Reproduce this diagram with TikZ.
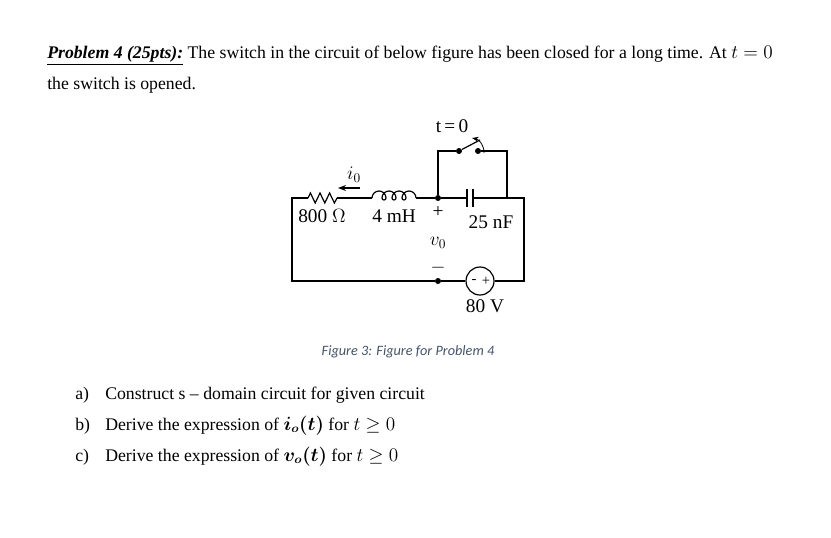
\documentclass[tikz,border=0pt]{standalone}
\usepackage{amsmath,amssymb,bm}
\usepackage{fontspec}
\setmainfont{Liberation Serif}
\newfontfamily\capfont{Carlito}
\usetikzlibrary{arrows.meta}
\definecolor{capc}{RGB}{68,84,106}
\begin{document}
\begin{tikzpicture}[x=0.75pt,y=-0.75pt,
  wire/.style={line width=0.9pt},
  dotc/.style={circle,fill=black,inner sep=0pt,minimum size=4.5pt},
  txt/.style={font=\fontsize{13.3pt}{15pt}\selectfont,anchor=base west,inner sep=0pt},
  clab/.style={font=\fontsize{14.5pt}{16pt}\selectfont,inner sep=0pt}]
\useasboundingbox (0,0) rectangle (831,537);
\fill[white] (0,0) rectangle (831,537);
\node[txt] (l1) at (47,58) {\textbf{\textit{\underline{Problem 4 (25pts):}}} The switch in the circuit of below figure has been closed for a long time. At $t=0$};
\node[txt] (l2) at (47,89) {the switch is opened.};
% circuit coordinates
\coordinate (TL) at (292,198); \coordinate (BL) at (292,281);
\coordinate (TR) at (524,198); \coordinate (BR) at (524,281);
\coordinate (R1) at (308,198); \coordinate (R2) at (337,198);
\coordinate (L1) at (372,198); \coordinate (L2) at (416,198);
\coordinate (N) at (438,198); \coordinate (NB) at (438,281);
\coordinate (C1) at (467,198); \coordinate (C2) at (473,198);
\coordinate (SW1) at (438,151); \coordinate (SW2) at (507,151);
\coordinate (SR) at (507,198);
\node[dotc] (d1) at (N) {}; \node[dotc] (d2) at (NB) {};
\node[dotc] (s1) at (459,151) {}; \node[dotc] (s2) at (478,151) {};
\node[circle,draw,line width=0.9pt,minimum size=21pt,inner sep=0pt] (src) at (480,281) {};
\node[font=\fontsize{11pt}{12pt}\selectfont] at (474,281) {-}; \node[font=\fontsize{11pt}{12pt}\selectfont] at (486,281) {+};
\draw[wire] (R1) -- (TL) -- (BL) -- (d2) -- (src) -- (BR) -- (TR) -- (C2);
\draw[wire] (R1) -- ++(2.4,-5) -- ++(4.8,10) -- ++(4.8,-10) -- ++(4.8,10) -- ++(4.8,-10) -- ++(4.8,10) -- (R2);
\draw[wire] (R2) -- (L1);
\draw[wire] (L1) arc(180:0:5.25pt) arc(0:-180:1.5pt) arc(180:0:5.25pt) arc(0:-180:1.5pt) arc(180:0:5.25pt) arc(0:-180:1.5pt) arc(180:0:5.25pt);
\draw[wire] (L2) -- (d1) -- (C1);
\draw[wire] (C1) ++(0,-9) -- ++(0,18);
\draw[wire] (C2) ++(0,-9) -- ++(0,18);
\draw[wire] (d1) -- (SW1) -- (s1);
\draw[wire] (s1) -- (480,140);
\draw[wire] (s2) -- (SW2) -- (SR);
\draw[line width=0.6pt,-{Stealth[length=5pt]}] (484,153) to[bend right=40] (472,138);
\draw[line width=0.9pt,-{Stealth[length=6pt]}] (360,188) -- (338,188);
\node[clab] (i0) at (354,175) {$i_0$};
\node[clab] (t0) at (452,126) {t\,=\,0};
\node[clab] at (322,216) {800 $\Omega$};
\node[clab] at (394,216) {4 mH};
\node[clab] at (491,222) {25 nF};
\node[clab] at (485,306) {80 V};
\node[clab] at (438,212) {+};
\node[clab] at (438,243) {$v_0$};
\node[clab] at (438,268) {$-$};
\node[font=\capfont\itshape\fontsize{10.7pt}{12pt}\selectfont,text=capc] (cap) at (408,352) {Figure 3: Figure for Problem 4};
\node[txt] at (75,399) {a)}; \node[txt] at (105,399) {Construct s -- domain circuit for given circuit};
\node[txt] at (75,430) {b)}; \node[txt] at (105,430) {Derive the expression of $\bm{i_o(t)}$ for $t\geq 0$};
\node[txt] at (75,461) {c)}; \node[txt] at (105,461) {Derive the expression of $\bm{v_o(t)}$ for $t\geq 0$};
\end{tikzpicture}
\end{document}
